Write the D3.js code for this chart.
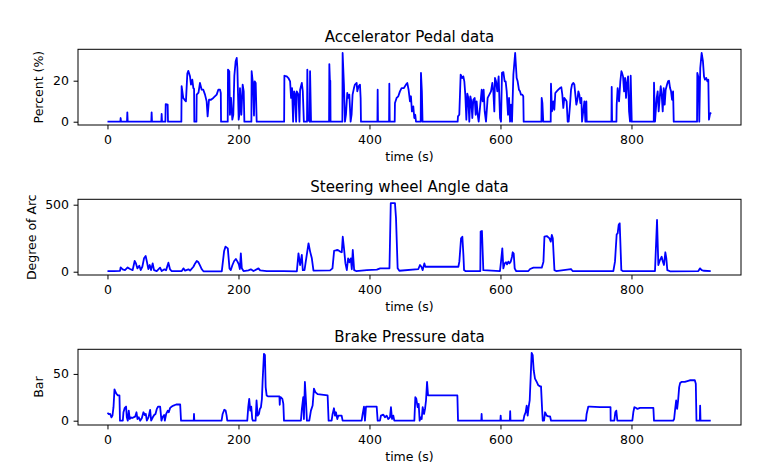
<!DOCTYPE html>
<html>
<head>
<meta charset="utf-8">
<script src="https://cdn.jsdelivr.net/npm/d3@7"></script>
<style>
  body { margin: 0; background: #fff; }
  svg { display: block; font-family: 'DejaVu Sans', sans-serif; }
</style>
</head>
<body>
<div id="chart-area"></div>
<script>
// time axis shared by all three panels
const timeDomain = [-45, 967.2];
const timeTicks = [0, 200, 400, 600, 800];

const accelTime = [0, 19.6, 20.1, 20.7, 29.8, 30.3, 30.9, 66.9, 67.4, 68, 82.2, 82.7, 83.3, 88.4, 88.9, 91.9, 92.4,
  112.8, 113.2, 115.7, 117.5, 119.8, 121.9, 123.4, 126, 127.5, 129.5, 131.1, 132.2, 132.6, 135.8, 136.2, 139, 141.2,
  143.8, 146.3, 148.9, 151.4, 152.9, 155, 158, 161.6, 166.7, 169.2, 171.8, 173, 173.4, 183.6, 184, 186, 187, 188.6,
  190.6, 192.1, 193.7, 195.7, 197.3, 198.3, 199.3, 200.3, 201.3, 202.3, 204.4, 206.4, 208, 209, 219.7, 220.1, 222.2,
  223.7, 224.7, 226.3, 227.8, 269.7, 270.1, 273.7, 276.2, 278.8, 280.3, 281.8, 283.4, 284.9, 286.5, 288, 289, 291.6,
  293.1, 294.1, 296.7, 298.2, 299.8, 304.6, 305.1, 306.2, 308.8, 309.3, 310.8, 338.3, 338.7, 339.6, 340.2, 340.6,
  358.6, 359, 361, 362.6, 364.1, 366.1, 367.6, 369.2, 370.2, 371.2, 372.7, 374.2, 376.3, 377.8, 380.4, 381.4, 383.4,
  385.5, 386.5, 387, 412.1, 412.5, 413, 429.9, 430.3, 430.9, 438.5, 438.9, 441.4, 444, 446.5, 449, 452.6, 455.7,
  457.7, 459.7, 461.8, 463.3, 464.8, 466.9, 468.4, 469.9, 471, 478.2, 478.6, 480, 481, 534.6, 535.1, 537.1, 539.2,
  541.7, 543.3, 544.8, 546.3, 547.9, 549.4, 550.9, 552.4, 554, 555.5, 557, 558.5, 560.6, 562.1, 563.6, 565.2, 566.7,
  568.7, 571.3, 572.8, 574.3, 575.9, 577.9, 580.4, 583, 585.5, 587.6, 589.1, 590.6, 591.6, 593.2, 595.2, 597.2,
  599.3, 600.8, 602.3, 604.4, 606.4, 607.9, 609.5, 611.5, 613.1, 614.6, 616.1, 617.6, 619.7, 622.4, 624.7, 626.2,
  628.2, 629.8, 631.3, 633.3, 634.8, 635.4, 662.5, 662.9, 664, 665.3, 676.7, 677.1, 678.6, 680.7, 682.2, 683.7,
  685.8, 688.3, 690.8, 692.9, 694.4, 695.9, 697.5, 699.5, 701, 702.6, 704.1, 706.2, 707.7, 709.2, 711.3, 712.8,
  714.3, 715.8, 717.4, 718.9, 720.4, 722, 723.5, 724.5, 728.1, 729.6, 731.1, 731.7, 769.4, 769.8, 770.4, 777,
  777.4, 778.9, 781, 783, 784.6, 785.6, 787.1, 788.7, 790.2, 791.7, 793.2, 794.8, 796.3, 797.8, 798.8, 800.4, 834,
  834.4, 835.9, 838.5, 840, 841.5, 843.1, 844.6, 846.1, 847.7, 849.2, 850.7, 852.2, 854.3, 855.8, 857.3, 858.9,
  860.4, 861.9, 863.5, 864.5, 900.1, 900.5, 902.5, 903.5, 905, 907.1, 909.1, 910.7, 912.2, 914.2, 915.8, 917.3,
  918.3, 919.9, 921.4];
const accelValues = [0, 0, 1.8, 0, 0, 4.6, 0, 0, 4.6, 0, 0, 3.8, 0, 0, 8.6, 8.3, 0,
  0, 17.3, 11.6, 10.8, 9.9, 23.5, 24.8, 22.1, 18.1, 20.5, 16.4, 16, 0, 0, 13.2, 14.2, 18.9,
  15.6, 15.6, 13.2, 9.9, 2.6, 10.7, 10.7, 11.6, 13.2, 15.6, 15.6, 14, 0, 0, 25.4, 24.6, 3.4, 11.6,
  1, 3.4, 22.4, 29.5, 31.1, 26.2, 13.2, 1, 3.4, 16.4, 3.4, 18.1, 14.8, 0, 0, 24.6, 18.1,
  3, 19.7, 18.9, 0, 0, 22.4, 22.1, 21.3, 19.7, 11.6, 16.4, 0, 14.8, 13.2, 0, 14.8, 13.2,
  0, 15.6, 18.9, 14.8, 0, 0, 25.4, 1, 0, 24.6, 0, 0, 28.1, 20, 20, 0,
  0, 33.5, 18, 0, 3.4, 14, 11.6, 13.2, 7, 0, 3.4, 13.2, 16.4, 18.1, 18.9, 14.8, 17.3,
  18.1, 11.6, 0, 0, 15.6, 0, 0, 18.5, 0, 0, 9.1, 11.6, 12.4, 14.8, 16.4, 16.4, 18.1,
  18.9, 15.6, 9.9, 12.4, 5, 7.5, 1.8, 3.4, 0, 0, 23.8, 14.8, 0, 0, 2.6, 3.4, 23,
  21.3, 22.1, 19.7, 13.2, 1, 13.7, 11.6, 0, 12.4, 9.9, 1.8, 10.7, 11.6, 3.4, 9.9, 3.4, 0,
  6.7, 15.6, 9.9, 15.6, 5, 0, 11.6, 13.2, 14.8, 18.9, 14.8, 5, 21.3, 19.7, 14.8, 22.1,
  1.8, 0, 23.8, 24.2, 19.7, 19.7, 14.8, 3.4, 11.6, 0, 8.3, 0, 23, 33.5, 21.3, 19.7,
  15.6, 14.8, 13.2, 13.2, 12.4, 0, 0, 11.6, 9.1, 0, 0, 18.5, 5, 9.9, 5.8, 14,
  14.8, 15.6, 16.4, 16.8, 13.2, 6.7, 11.6, 10.7, 9.9, 0, 0, 8.3, 15.6, 18.1, 18.9, 18.1,
  13.2, 8.3, 10.7, 14.8, 13.2, 9.1, 11.6, 0, 9.9, 0, 9.9, 0, 0, 17, 0, 0,
  8.3, 16.4, 9.9, 19.7, 24.6, 23.8, 22.1, 14.8, 21.3, 11.6, 18.9, 22.1, 5, 0, 22.4, 0, 0,
  19, 0, 11.6, 14.8, 5, 11.6, 17.3, 13.2, 5, 16.4, 8.3, 15.6, 18.1, 19.7, 20, 16.4,
  14.8, 10.7, 14.8, 0, 0, 23.8, 21.3, 0, 26.2, 33.5, 29.5, 22.1, 20.5, 21.3, 19.7, 20.5,
  1, 3.8, 4.5];
const accelDomain = [-1.6, 35.3];
const accelTicks = [0, 20];

// steering wheel angle (degree of arc)
const steerTime = [0, 10, 19.1, 20.1, 23.2, 26.7, 30.8, 34.4, 38.4, 41.5, 43.5, 45.6, 48.6, 50.7, 53.2, 55.8,
  58.3, 60.4, 62.4, 64.5, 66.5, 69, 71.1, 75.2, 80.3, 82.8, 86.9, 89.4, 93, 95.5, 98.1, 113.4, 115.9, 118.5,
  123.6, 126.1, 131.2, 133.8, 136.3, 138.9, 141.4, 144, 146.5, 174.5, 178.1, 180.2, 183.7, 186.3, 188.3, 190.8,
  193.4, 196, 198.5, 200.5, 202.1, 203.6, 205.1, 207.7, 215.3, 218.8, 222.9, 230.5, 233.1, 243.3, 268.7, 289.1,
  291.6, 294.1, 296.7, 298.2, 300.8, 306.9, 309.4, 312, 314.5, 339.9, 343.5, 346, 349.1, 351.6, 355.2, 357.7,
  359.2, 361.3, 363.3, 365.4, 367.4, 369.4, 371.5, 373, 374.5, 376.6, 379.6, 395.9, 411.2, 416.3, 429, 430.5,
  432.5, 438.9, 440.5, 443, 445.6, 474.6, 477.1, 479.2, 481.2, 483.8, 485.3, 487.3, 535.7, 537.2, 539.8, 541.8,
  543.4, 544.4, 546.4, 569.2, 569.7, 571.7, 573.8, 599.2, 600.8, 602.8, 604.4, 606.4, 608.5, 610, 612, 613.6,
  615.6, 617.6, 618.6, 620.2, 621.7, 623.8, 642.6, 645.2, 650.3, 663, 665.6, 667.1, 670.7, 674.8, 676.8, 678.4,
  679.9, 680.9, 682.4, 685, 707.6, 710.1, 772.3, 774.8, 777.4, 778.9, 780.4, 782, 783, 784.5, 786.6, 835.9, 839,
  841, 843.5, 846.1, 847.6, 849.6, 851.7, 853.2, 854.7, 858.8, 902.1, 904.7, 907.2, 910.8, 921];
const steerValues = [5, 4, 6, 32, 17, 12, 32, 20, 12, 80, 62, 25, 45, 12, 37, 100,
  117, 70, 20, 50, 12, 62, 12, 5, 30, 5, 18, 10, 67, 18, 5, 5, 25, 8,
  18, 8, 37, 62, 80, 70, 45, 18, 3, 3, 155, 187, 174, 25, 12, 50,
  80, 95, 75, 55, 20, 137, 25, 5, 10, 18, 5, 25, 10, 5, 5, 3,
  137, 50, 125, 12, 12, 212, 150, 100, 8, 10, 25, 155, 160, 162, 150, 145,
  261, 165, 62, 12, 100, 70, 100, 18, 162, 12, 5, 12, 15, 25, 25, 25,
  512, 512, 400, 25, 7, 20, 50, 37, 12, 62, 37, 37, 37, 75, 249, 261,
  125, 12, 5, 5, 299, 304, 12, 5, 75, 174, 25, 62, 70, 55, 75, 62,
  75, 112, 145, 135, 25, 5, 5, 20, 30, 30, 75, 261, 266, 249, 224, 274,
  249, 150, 12, 5, 20, 5, 5, 75, 279, 286, 348, 361, 224, 12, 5, 5, 386,
  50, 87, 112, 80, 50, 145, 100, 12, 3, 5, 25, 12, 7, 5];
const steerDomain = [-24.6, 540.3];
const steerTicks = [0, 500];

// brake pressure (bar)
const brakeTime = [0, 2, 4.1, 6.1, 7.6, 9.2, 10.7, 12.2, 13.7, 15.8, 18.3, 19.1, 23.4, 24.4, 26.4, 28.4, 29.5,
  31, 32.5, 34, 35.6, 37.6, 39.7, 42.2, 44.3, 45.8, 47.8, 49.9, 52.4, 54.9, 57, 58.5, 60.1, 62.6, 65.1, 66.7,
  69.2, 71.3, 73.3, 75.3, 77.4, 80.4, 82.4, 84, 86.5, 87.5, 89.6, 92.1, 93.6, 95.7, 98.2, 100.8, 104.9, 111,
  112.3, 131.7, 132.1, 132.6, 174.2, 175.8, 178.3, 180.4, 181.9, 182.9, 213.4, 214.9, 216.4, 218, 219.5, 221,
  222, 226.1, 227.6, 229.2, 231.2, 232.7, 234.3, 235.8, 236.9, 238.9, 240.4, 241.5, 243, 245.5, 259.3, 262.5,
  263, 263.6, 264.4, 267, 268.5, 269.5, 295.3, 296.8, 298.9, 299.9, 301.4, 303, 304.5, 308.1, 310.6, 313.2,
  315.2, 317.3, 320.8, 336.1, 337.6, 342.2, 343.7, 345.8, 347.3, 348.8, 350.9, 352.4, 357.5, 359, 388, 389.6,
  391.6, 393.1, 394.7, 411, 412.5, 416, 417.5, 421.1, 423.6, 426.2, 428.7, 431.3, 432.8, 434.4, 436.4, 437.9,
  468.5, 470, 471.5, 473.5, 475.1, 476.6, 478.1, 479.7, 481.2, 483.3, 484.8, 486.3, 487.9, 489.4, 492.4, 534.2,
  535.2, 570.7, 571.2, 571.7, 599.8, 600.3, 600.8, 614.3, 614.8, 615.3, 634.9, 636.4, 638.4, 640, 641.5, 643,
  644.6, 646.1, 647.6, 649.2, 650.7, 652.7, 655.3, 657.8, 660.4, 661.9, 663.4, 664.5, 666.5, 668, 670.6, 673.1,
  675.7, 677.2, 730.5, 731.5, 734.1, 736.6, 752, 768, 768.2, 773.8, 775.3, 776.8, 778.4, 801.3, 802.8, 804.4,
  806.9, 809, 813, 833.4, 834.4, 863.6, 865.1, 866.7, 868.2, 869.7, 871.2, 872.8, 874.3, 876.3, 881.4, 884,
  889, 896.7, 898.2, 899.2, 904.3, 904.8, 905.4, 921];
const brakeValues = [8.5, 7, 7.2, 3.6, 5.4, 14.4, 33.5, 30.6, 28.8, 27, 27, 0, 0, 9, 13.7, 15.1, 3.6,
  0, 10.8, 1.8, 3.6, 2.9, 3.6, 4.3, 9, 1.8, 3.6, 0, 2.5, 9, 6.1, 7.2, 0, 3.6, 11.5, 0,
  3.6, 6.1, 7.2, 12.6, 15.1, 15.1, 0, 3.6, 6.1, 0, 7.2, 10.8, 9, 13.7, 15.1, 16.2, 17.3, 17.3,
  0, 0, 7.2, 0, 0, 7.2, 11.7, 10.8, 5.4, 0, 0, 14.4, 23.4, 10.8, 15.1, 1.8,
  0, 0, 21.6, 5.4, 7.2, 12.6, 14.4, 23.4, 43.2, 71.5, 70.1, 35.9, 27, 25.9, 25.9, 25.9,
  17, 25.2, 25.2, 23.4, 18, 0, 0, 12.6, 25.2, 1.8, 41.4, 21.6, 0, 0, 10.8, 16.2,
  34.2, 30.6, 28.4, 27, 0, 0, 7.2, 13.3, 5.4, 9, 1.8, 5.4, 5.4, 0, 0, 7.2,
  15.1, 0, 15.1, 15.1, 0, 0, 5.4, 6.5, 3.6, 5.4, 1.8, 3.6, 14.4, 1.8, 5.4, 0,
  0, 25.2, 23.4, 14.4, 18, 0, 3.6, 1.8, 14.4, 7.2, 12.6, 21.6, 41.4, 27, 27, 27,
  0, 0, 7.2, 0, 0, 5.4, 0, 0, 10.1, 0, 0, 5.4, 9, 16.2, 5.4, 14.4,
  21.6, 46.7, 72.5, 70.1, 53.9, 45, 41.4, 37.8, 36.7, 36.7, 14.4, 0, 0, 9, 5.4, 4.7,
  4.7, 0, 0, 7.2, 15.1, 15.1, 14.4, 14.4, 0, 0, 9, 10.8, 0, 0, 9, 14.4,
  13.7, 12.6, 13.7, 13.7, 0, 0, 1.8, 12.6, 21.6, 12.6, 21.6, 35.9, 40.3, 41.4, 41.4, 42.1,
  43.2, 43.2, 39.6, 0, 0, 16.2, 0, 0];
const brakeDomain = [-4.6, 76.3];
const brakeTicks = [0, 50];

const panels = [
  { title: 'Accelerator Pedal data', ylabel: 'Percent (%)', time: accelTime, values: accelValues, yDomain: accelDomain, yTicks: accelTicks },
  { title: 'Steering wheel Angle data', ylabel: 'Degree of Arc', time: steerTime, values: steerValues, yDomain: steerDomain, yTicks: steerTicks },
  { title: 'Brake Pressure data', ylabel: 'Bar', time: brakeTime, values: brakeValues, yDomain: brakeDomain, yTicks: brakeTicks }
];

const width = 764;
const height = 468;
const left = 78;
const right = 741;
const panelHeight = 75.7;
const panelTops = [49.3, 199.3, 349.3];

const svg = d3.select('#chart-area')
  .append('svg')
  .attr('width', width)
  .attr('height', height);

svg.append('rect')
  .attr('width', width)
  .attr('height', height)
  .attr('fill', '#fff');

const x = d3.scaleLinear()
  .domain(timeDomain)
  .range([left, right]);

panels.forEach((panel, i) => {
  const top = panelTops[i];
  const bottom = top + panelHeight;

  const y = d3.scaleLinear()
    .domain(panel.yDomain)
    .range([bottom, top]);

  const g = svg.append('g');

  g.append('clipPath')
    .attr('id', 'clip' + i)
    .append('rect')
    .attr('x', left)
    .attr('y', top)
    .attr('width', right - left)
    .attr('height', panelHeight);

  const line = d3.line()
    .x((d) => x(d[0]))
    .y((d) => y(d[1]));

  g.append('path')
    .datum(d3.zip(panel.time, panel.values))
    .attr('clip-path', 'url(#clip' + i + ')')
    .attr('fill', 'none')
    .attr('stroke', '#0000ff')
    .attr('stroke-width', 1.8)
    .attr('stroke-linejoin', 'round')
    .attr('d', line);

  // frame drawn over the line, like matplotlib spines
  g.append('rect')
    .attr('x', left)
    .attr('y', top)
    .attr('width', right - left)
    .attr('height', panelHeight)
    .attr('fill', 'none')
    .attr('stroke', '#000')
    .attr('stroke-width', 1);

  const xAxis = g.append('g')
    .attr('transform', 'translate(0,' + bottom + ')')
    .call(d3.axisBottom(x).tickValues(timeTicks).tickSize(4.4).tickSizeOuter(0).tickPadding(5.4));

  const yAxis = g.append('g')
    .attr('transform', 'translate(' + left + ',0)')
    .call(d3.axisLeft(y).tickValues(panel.yTicks).tickSize(4.4).tickSizeOuter(0).tickPadding(4.6));

  [xAxis, yAxis].forEach((axis) => {
    axis.select('.domain').remove();
    axis.selectAll('line').attr('stroke', '#000');
    axis.selectAll('text')
      .attr('fill', '#000')
      .attr('font-size', 12.5)
      .attr('font-family', 'DejaVu Sans, sans-serif');
  });

  g.append('text')
    .attr('x', (left + right) / 2)
    .attr('y', bottom + 35.6)
    .attr('text-anchor', 'middle')
    .attr('font-size', 12.5)
    .text('time (s)');

  g.append('text')
    .attr('x', (left + right) / 2)
    .attr('y', top - 7)
    .attr('text-anchor', 'middle')
    .attr('font-size', 15)
    .text(panel.title);

  // place the y label just left of the widest tick label
  const tickBox = yAxis.node().getBBox();
  const labelX = left + tickBox.x - 9.6;
  g.append('text')
    .attr('transform', 'translate(' + labelX + ',' + (top + panelHeight / 2) + ') rotate(-90)')
    .attr('text-anchor', 'middle')
    .attr('font-size', 12.5)
    .text(panel.ylabel);
});
</script>
</body>
</html>
